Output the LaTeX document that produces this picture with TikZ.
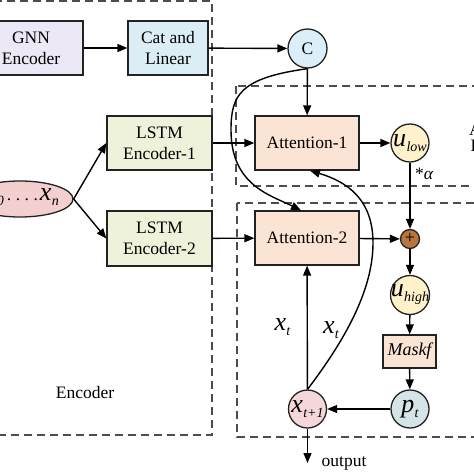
\documentclass[tikz,border=0pt]{standalone}
\usepackage{fontspec}
\setmainfont{Liberation Serif}
\usetikzlibrary{arrows.meta,shapes.geometric,calc}
\definecolor{cgnn}{HTML}{EDE8F5}
\definecolor{ccat}{HTML}{DCEEF5}
\definecolor{clstm}{HTML}{EEF2DB}
\definecolor{catt}{HTML}{FCE4D5}
\definecolor{cC}{HTML}{DCEEF7}
\definecolor{cu}{HTML}{FFF1C9}
\definecolor{cplus}{HTML}{B8763E}
\definecolor{cp}{HTML}{D5E4E6}
\definecolor{cx}{HTML}{F5D6DA}
\definecolor{cell}{HTML}{F4CFD0}
\definecolor{edge}{HTML}{222222}
\newcommand\myvar[2]{{\fontsize{26}{26}\selectfont\itshape #1}\kern0.3pt\raisebox{-5pt}{\fontsize{14}{14}\selectfont\itshape #2}}
\begin{document}
\begin{tikzpicture}[x=1pt,y=-1pt,
  font=\fontsize{17.5}{21}\selectfont,
  box/.style={draw=edge, line width=1.3pt, align=center, inner sep=0pt},
  circ/.style={circle, draw=edge, line width=1.3pt, inner sep=0pt},
  arr/.style={-{Triangle[length=10pt,width=8pt]}, line width=1.4pt, draw=black},
  dashbox/.style={draw=black!70, line width=1.2pt, dash pattern=on 8pt off 5pt}]
\useasboundingbox (0,0) rectangle (474,474);
\clip (0,0) rectangle (474,474);
% dashed regions
\draw[dashbox] (-10,1) rectangle (212,435);
\draw[dashbox] (236,86) rectangle (492,186);
\draw[dashbox] (237,203) rectangle (492,437);
% encoder nodes
\node[box, fill=cgnn, minimum width=104pt, minimum height=54pt] (gnn) at (31,48) {GNN\\Encoder};
\node[box, fill=ccat, minimum width=80pt, minimum height=54pt] (cat) at (168,48) {Cat and\\Linear};
\node[box, fill=clstm, minimum width=105pt, minimum height=54pt] (lstm1) at (159.5,143) {LSTM\\Encoder-1};
\node[box, fill=clstm, minimum width=105pt, minimum height=55pt] (lstm2) at (159.5,238.5) {LSTM\\Encoder-2};
\node[ellipse, draw=edge, line width=1.3pt, fill=cell, minimum width=106pt, minimum height=36pt, inner sep=0pt] (ell) at (20,199) {};
\node (elltext) at (22,197) {\myvar{x}{0}\kern3pt.\kern4.5pt.\kern4.5pt.\kern4.5pt.\kern2pt\myvar{x}{n}};
\node (enclabel) at (85,393) {Encoder};
% decoder nodes
\node[circ, fill=cC, minimum size=39pt] (C) at (307.5,48.5) {C};
\node[box, fill=catt, minimum width=104pt, minimum height=54pt] (att1) at (307,143) {Attention-1};
\node[box, fill=catt, minimum width=104pt, minimum height=54pt] (att2) at (307,238) {Attention-2};
\node[circ, fill=cu, minimum size=38pt, label={[name=ulowt]center:\myvar{u}{low}}] (ulow) at (410,143) {};
\node[circ, fill=cplus, minimum size=19pt, font=\fontsize{18}{18}\selectfont] (plus) at (410,239) {\raisebox{0.5pt}{+}};
\node[circ, fill=cu, minimum size=39pt, label={[name=uhight]center:\myvar{u}{high}}] (uhigh) at (410,295) {};
\node[box, fill=catt, minimum width=53pt, minimum height=33pt, font=\fontsize{18}{18}\selectfont\itshape] (mask) at (409.5,351.5) {Maskf};
\node[circ, fill=cp, minimum size=38pt, label={[name=ptt]center:\myvar{p}{t}}] (pt) at (410,409) {};
\node[circ, fill=cx, minimum size=38pt, label={[name=xt1t]center:\myvar{x}{t+1}}] (xt1) at (307.5,409) {};
\node (out) at (344,463) {output};
\coordinate (outend) at (307.5,463);
\node (decA) [anchor=base west] at (465.5,135) {Attention};
\node (decD) [anchor=base west] at (467,151) {Decoder};
% connectors
\draw[arr] (gnn) -- (cat);
\draw[arr] (cat) -- (C);
\draw[arr] (C) -- (att1);
\draw[arr] (ell.east) -- (lstm1.west);
\draw[arr] (ell.east) -- (lstm2.west);
\draw[arr] (lstm1) -- (att1);
\draw[arr] (lstm2) -- (att2);
\draw[arr] (att1) -- (ulow);
\draw[arr] (ulow) -- (plus) node[pos=0.17, right=1pt] (alpha) {*\textit{α}};
\draw[arr] (att2) -- (plus);
\draw[arr] (plus) -- (uhigh);
\draw[arr] (uhigh) -- (mask);
\draw[arr] (mask) -- (pt);
\draw[arr] (pt) -- (xt1);
\draw[arr] (xt1) -- (att2) node[pos=0.5, left=13pt] (xtl) {\myvar{x}{t}};
\draw[arr] (xt1) -- (outend);
\draw[arr] (C.south) .. controls (240,78) and (231,95) .. (231,130)
  .. controls (231,185) and (270,195) .. ($(att2.north)+(-6,0)$);
\draw[arr] (xt1.north) .. controls (345,340) and (373,290) .. (373,243)
  .. controls (373,200) and (348,182) .. ($(att1.south)+(3,0)$);
\node (xtr) at (331,330) {\myvar{x}{t}};
\end{tikzpicture}
\end{document}
